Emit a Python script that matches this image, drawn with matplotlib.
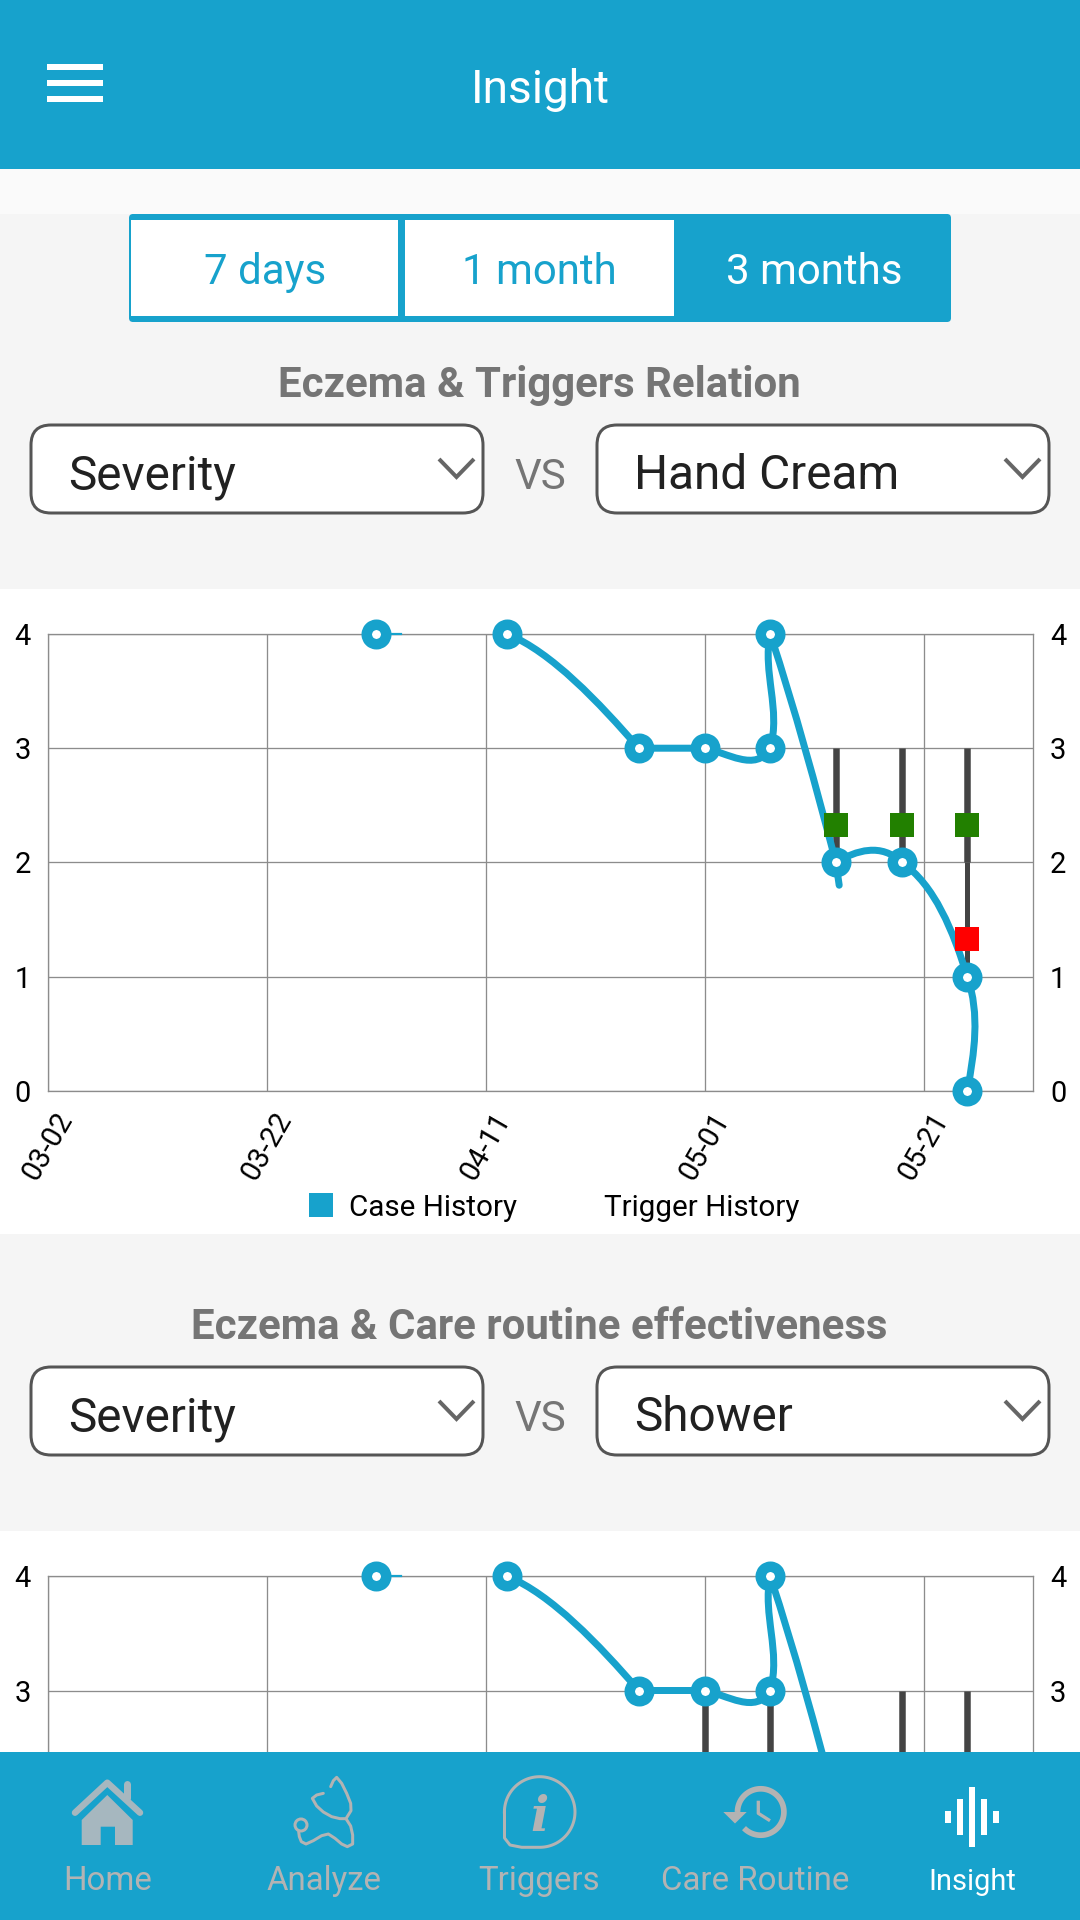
import numpy as np
import matplotlib
matplotlib.use("Agg")
import matplotlib.pyplot as plt
from matplotlib.lines import Line2D
from matplotlib.patches import FancyBboxPatch, PathPatch, Rectangle, Polygon, Circle
from matplotlib.path import Path

plt.rcParams['font.family'] = ['Roboto', 'DejaVu Sans']

BLUE = '#17a2cc'
GRID = '#8c8c8c'
BAR = '#444444'
GREY_TEXT = '#757575'
NAV_GREY = '#b3b3b3'
W, H = 1080, 1920

# x axis is days since 03-02
x_ticks = [0, 20, 40, 60, 80]
x_labels = ['03-02', '03-22', '04-11', '05-01', '05-21']
y_ticks = [0, 1, 2, 3, 4]
x_max = 90

# severity, nan breaks the line
case_days = [30, 36, 42, 54, 60, 66, 66, 72, 78, 84, 84]
case_vals = [4, np.nan, 4, 3, 3, 3, 4, 2, 2, 1, 0]

# curve handles in pixels for each segment after the gap, y grows downwards
handles_out = [(44, 18), (22, 0), (22, 4), (11, -38), (25, 76), (20, -12), (33, 22), (13, 38)]
handles_in = [(-40, -46), (-22, 0), (-14, 25), (-8, 38), (-20, -76), (-20, -20), (-14, -45), (7, -38)]

# small tails the line leaves next to some points
tail_days = [[72, 72.3], [54, 54.7]]
tail_vals = [[2, 1.8], [3, 2.93]]
stub_days = [30, 32.3]
stub_vals = [4, 4]

# first chart triggers
bar_days_1 = [72, 78, 84]
bar_tops_1 = [3, 3, 3]
bar_lows_1 = [2, 2, 2]
thin_days_1 = [84]
thin_tops_1 = [2]
thin_lows_1 = [1]
green_days_1 = [72, 78, 84]
green_vals_1 = [2.33, 2.33, 2.33]
red_days_1 = [84]
red_vals_1 = [1.33]

# second chart, lower part is hidden behind the nav bar
bar_days_2 = [60, 66, 78, 84]
bar_tops_2 = [3, 3, 3, 3]
bar_lows_2 = [2, 2, 2, 2]

tabs = ['7 days', '1 month', '3 months']
nav_labels = ['Home', 'Analyze', 'Triggers', 'Care Routine']


def pt(n):
    # pixels to points at dpi 100
    return n * 0.72


def curve_path(ax, days, vals):
    pts = ax.transData.transform(np.column_stack([days, vals]))
    verts = [pts[0]]
    codes = [Path.MOVETO]
    for i in range(1, len(pts)):
        ox, oy = handles_out[i - 1]
        ix, iy = handles_in[i - 1]
        # screen y is flipped against the pixel rows the handles were read in
        verts += [pts[i - 1] + (ox, -oy), pts[i] + (ix, -iy), pts[i]]
        codes += [Path.CURVE4, Path.CURVE4, Path.CURVE4]
    return Path(ax.transData.inverted().transform(np.array(verts)), codes)


def draw_case_line(ax):
    days = np.array(case_days, dtype=float)
    vals = np.array(case_vals, dtype=float)
    gap = int(np.where(np.isnan(vals))[0][0])
    ax.add_patch(PathPatch(curve_path(ax, days[gap + 1:], vals[gap + 1:]), fill=False, ec=BLUE, lw=pt(7),
                           capstyle='round', zorder=3, clip_on=False))
    for d, v in zip(tail_days, tail_vals):
        ax.plot(d, v, color=BLUE, lw=pt(7), solid_capstyle='round', zorder=3)
    ax.plot(stub_days, stub_vals, color=BLUE, lw=pt(2.2), zorder=3, clip_on=False)
    ax.plot(days[~np.isnan(vals)], vals[~np.isnan(vals)], ls='none', marker='o', ms=pt(19.5),
            mfc='white', mec=BLUE, mew=pt(10.5), zorder=4, clip_on=False)


def make_chart(y_top, show_all):
    # y_top is the pixel row of value 4
    unit = 114.2
    left, right = 47.5, 1033
    bottom_px = y_top + 4 * unit
    ax = fig.add_axes([left / W, 1 - bottom_px / H, (right - left) / W, 4 * unit / H], zorder=1)
    ax.patch.set_alpha(0)
    ax.set_xlim(0, x_max)
    ax.set_ylim(0, 4)
    ax.set_xticks(x_ticks)
    ax.set_yticks(y_ticks)
    if show_all:
        ax.set_xticklabels(x_labels, rotation=60, ha='center', va='top')
    else:
        # the lower half sits behind the nav bar
        ax.set_xticklabels([])
        ax.set_yticklabels(['', '', '', '3', '4'])
    ax.grid(True, color=GRID, lw=pt(1.3), zorder=1)
    ax.set_axisbelow(True)
    for s in ax.spines.values():
        s.set_color(GRID)
        s.set_linewidth(pt(1.3))
    ax.tick_params(axis='x', length=0, pad=pt(17), labelsize=pt(29), labelcolor='black')
    ax.tick_params(axis='y', length=0, pad=pt(17), labelsize=pt(29), labelcolor='black',
                   labelleft=True, labelright=True)
    return ax


def draw_controls(dy, title, left_text, right_text):
    bg.text(539, 397 + dy, title, ha='center', va='baseline', fontsize=pt(42), weight='bold', color=GREY_TEXT)
    for x0, x1, label, tx in [(31, 483, left_text, 68.5), (597, 1049, right_text, 634.5)]:
        bg.add_patch(FancyBboxPatch((x0 + 20, 425 + dy + 20), x1 - x0 - 40, 88 - 40,
                                    boxstyle='round,pad=20,rounding_size=20', fc='white', ec='#555555', lw=pt(3)))
        bg.text(tx, 489 + dy, label, ha='left', va='baseline', fontsize=pt(47.7), color='#212121')
        bg.plot([x1 - 44, x1 - 26.5, x1 - 9], [459 + dy, 477 + dy, 459 + dy], color='#666666',
                lw=pt(4), solid_capstyle='butt', solid_joinstyle='miter')
    bg.text(540, 489 + dy, 'VS', ha='center', va='baseline', fontsize=pt(42), color=GREY_TEXT)


fig = plt.figure(figsize=(W / 100, H / 100), dpi=100, facecolor='#f5f5f5')

# page background, header, tabs, dropdowns
bg = fig.add_axes([0, 0, 1, 1], zorder=0)
bg.set_xlim(0, W)
bg.set_ylim(H, 0)
bg.axis('off')
bg.add_patch(Rectangle((0, 0), W, 169, fc=BLUE, ec='none'))
bg.add_patch(Rectangle((0, 169), W, 45, fc='#fafafa', ec='none'))
for y in [64, 80, 96]:
    bg.add_patch(Rectangle((47, y), 56, 6, fc='white', ec='none'))
bg.text(540.5, 102.5, 'Insight', ha='center', va='baseline', fontsize=pt(46), color='white')

bg.add_patch(FancyBboxPatch((133, 218), 814, 100, boxstyle='round,pad=4,rounding_size=4', fc=BLUE, ec='none'))
bg.add_patch(Rectangle((131, 220), 267, 96, fc='white', ec='none'))
bg.add_patch(Rectangle((405, 220), 269, 96, fc='white', ec='none'))
for label, cx, col in zip(tabs, [265.5, 539.5, 814], [BLUE, BLUE, 'white']):
    bg.text(cx, 284, label, ha='center', va='baseline', fontsize=pt(42), color=col)

draw_controls(0, 'Eczema & Triggers Relation', 'Severity', 'Hand Cream')
draw_controls(942, 'Eczema & Care routine effectiveness', 'Severity', 'Shower')
bg.add_patch(Rectangle((0, 588.5), W, 645, fc='white', ec='none'))
bg.add_patch(Rectangle((0, 1530.5), W, 400, fc='white', ec='none'))

# first chart
ax1 = make_chart(634, True)
ax1.vlines(bar_days_1, bar_lows_1, bar_tops_1, color=BAR, lw=pt(6.5), zorder=2)
ax1.vlines(thin_days_1, thin_lows_1, thin_tops_1, color=BAR, lw=pt(5), zorder=2)
draw_case_line(ax1)
ax1.plot(green_days_1, green_vals_1, ls='none', marker='s', ms=pt(24), mfc='#228000', mew=0, zorder=5)
ax1.plot(red_days_1, red_vals_1, ls='none', marker='s', ms=pt(24), mfc='#ff0000', mew=0, zorder=5)
handles = [Line2D([], [], ls='none', marker='s', ms=pt(24), mfc=BLUE, mew=0),
           Line2D([], [], ls='none')]
ax1.legend(handles, ['Case History', 'Trigger History'], ncol=2, frameon=False, fontsize=pt(29.6),
           loc='center left', bbox_to_anchor=(306.5 / W, 1 - 1207.5 / H), bbox_transform=fig.transFigure,
           handlelength=1.0, handletextpad=0.45, columnspacing=1.48, borderpad=0, borderaxespad=0)

# second chart
ax2 = make_chart(1576.3, False)
ax2.vlines(bar_days_2, bar_lows_2, bar_tops_2, color=BAR, lw=pt(6.5), zorder=2)
draw_case_line(ax2)

# bottom nav on top of everything
nav = fig.add_axes([0, 0, 1, 1], zorder=2)
nav.set_xlim(0, W)
nav.set_ylim(H, 0)
nav.axis('off')
nav.patch.set_alpha(0)
nav.add_patch(Rectangle((0, 1752), W, 168, fc=BLUE, ec='none'))
for label, cx in zip(nav_labels, [107.5, 324, 539, 755.5]):
    nav.text(cx, 1890, label, ha='center', va='baseline', fontsize=pt(33), color=NAV_GREY)
nav.text(972, 1890, 'Insight', ha='center', va='baseline', fontsize=pt(29), color='white')

# home icon
HOME = '#a6b7bf'
nav.plot([75, 107.3, 140], [1812.7, 1782.7, 1812.7], color=HOME, lw=pt(6.5), solid_capstyle='round')
nav.plot([127, 127], [1784, 1798], color=HOME, lw=pt(7), solid_capstyle='round')
nav.add_patch(Polygon([(81.7, 1820), (107.3, 1795), (132.7, 1820), (132.7, 1845), (115, 1845), (115, 1826.7),
                       (100.7, 1826.7), (100.7, 1845), (81.7, 1845)], fc=HOME, ec='none'))


def z_icon(points):
    return [60 + p[0] / 3 for p in points], [1770 + p[1] / 3 for p in points]


# stethoscope icon
tube_right = [(812, 50), (820, 32), (830, 22), (845, 40), (860, 70), (872, 100), (873, 122), (858, 146), (872, 168),
              (878, 195), (878, 222), (862, 230), (845, 222), (825, 205), (805, 192), (785, 197), (760, 212),
              (738, 222), (724, 215), (718, 200), (716, 185)]
tube_left = [(790, 70), (770, 75), (757, 85), (770, 108), (790, 126), (815, 140), (840, 146), (858, 146)]
for tube in [tube_right, tube_left]:
    xs, ys = z_icon(tube)
    nav.plot(xs, ys, color=NAV_GREY, lw=pt(3), solid_capstyle='round', solid_joinstyle='round')
nav.add_patch(Circle((60 + 723 / 3, 1770 + 165 / 3), 6, fc='none', ec=NAV_GREY, lw=pt(3)))

# triggers icon
ang = np.radians(np.linspace(180, 450, 80))
cx_i, cy_i, r_i = 539.7, 1812, 35.3
xs = np.concatenate([cx_i + r_i * np.cos(ang), [521.7, 510, 504.5, 504.5]])
ys = np.concatenate([cy_i + r_i * np.sin(ang), [1847.3, 1845, 1838, 1812]])
nav.plot(xs, ys, color=NAV_GREY, lw=pt(3), solid_joinstyle='round')
nav.text(539.7, 1831, 'i', ha='center', va='baseline', fontsize=pt(48), style='italic', weight='bold',
         family='DejaVu Serif', color=NAV_GREY)

# care routine icon
ang = np.radians(np.linspace(180, 496, 80))
nav.plot(760.7 + 23.2 * np.cos(ang), 1812 + 23.2 * np.sin(ang), color=NAV_GREY, lw=pt(5.7), solid_capstyle='butt')
nav.add_patch(Polygon([(723.3, 1812), (746.7, 1812), (735, 1823.5)], fc=NAV_GREY, ec='none'))
nav.plot([758.3, 758.3, 770], [1800.7, 1813.3, 1820.7], color=NAV_GREY, lw=pt(3.3), solid_capstyle='butt')

# insight icon
for cx, half in zip([948, 960, 972, 984, 996], [6, 18, 30, 18, 6]):
    nav.add_patch(Rectangle((cx - 3, 1816.5 - half), 6, 2 * half, fc='white', ec='none'))

fig.savefig('out.png', dpi=100, facecolor=fig.get_facecolor())
